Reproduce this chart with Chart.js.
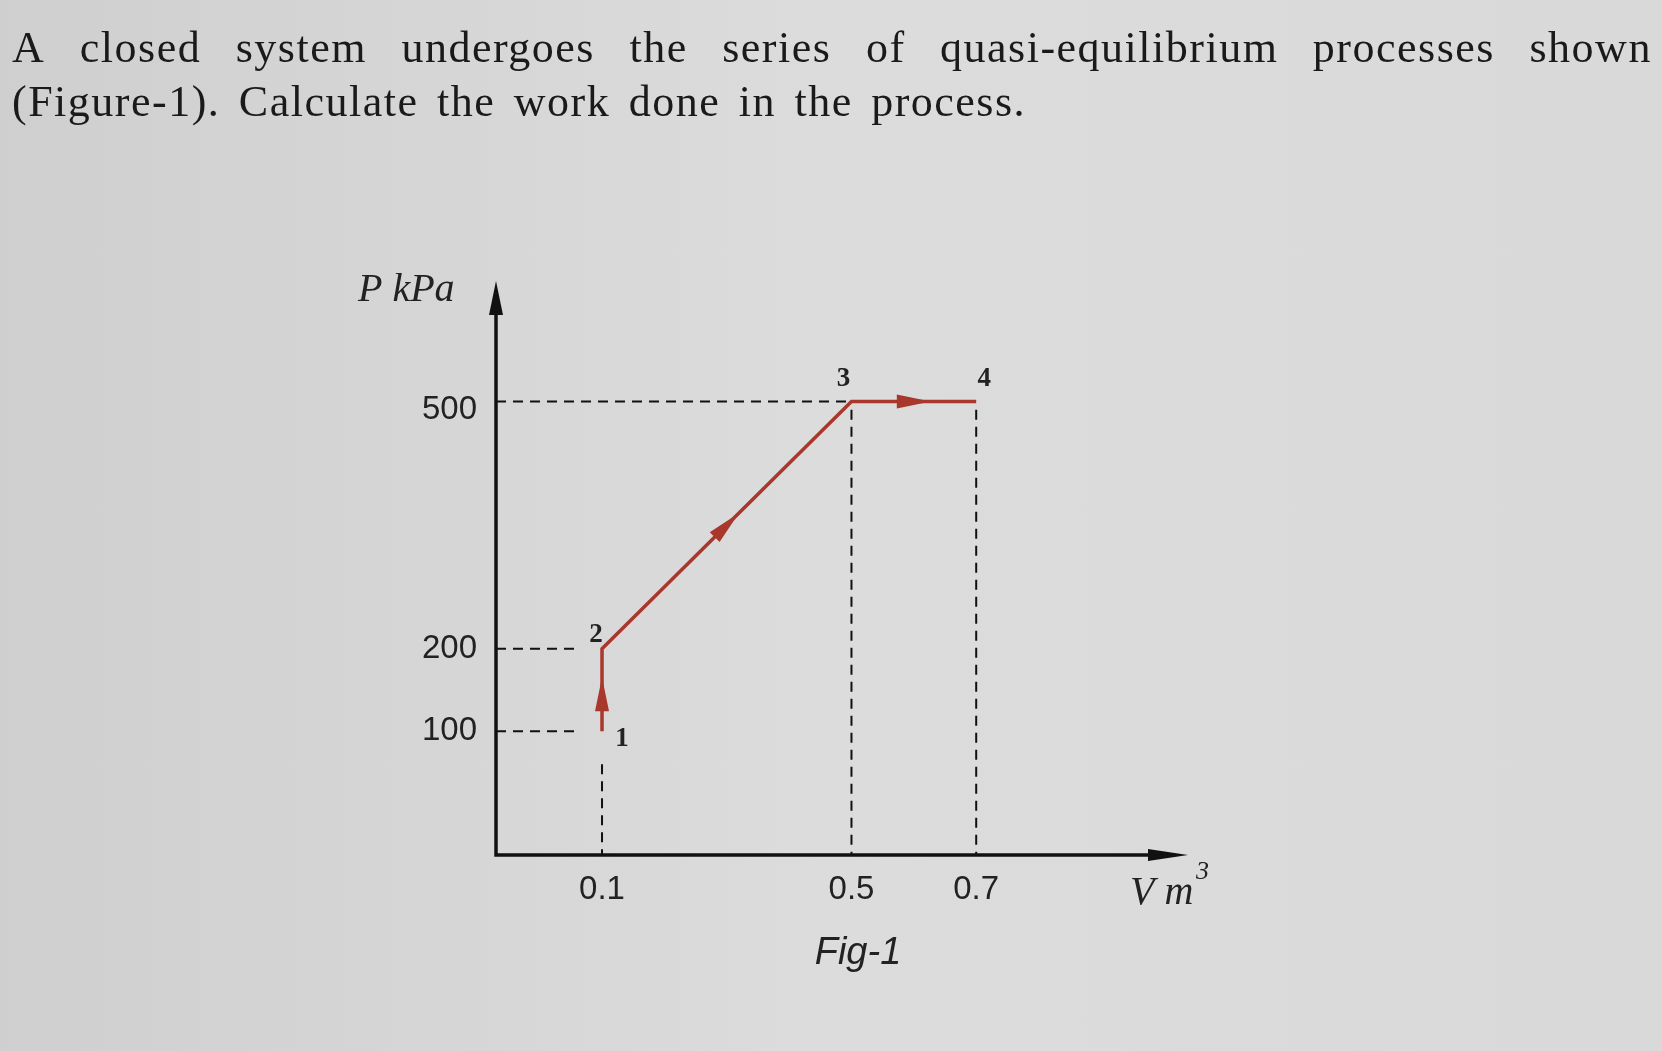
<!DOCTYPE html>
<html><head><meta charset="utf-8">
<script src="https://cdn.jsdelivr.net/npm/chart.js@4/dist/chart.umd.min.js"></script>
<style>html,body{margin:0;padding:0;background:#d7d7d7;overflow:hidden}#w{width:1662px;height:1051px;background:linear-gradient(90deg,#cfcfcf,#dcdcdc 50%,#d9d9d9)}</style>
</head><body><div id="w"><canvas id="c" width="1662" height="1051"></canvas></div>
<script>
const volumes = [0.1, 0.1, 0.5, 0.7];
const pressures = [100, 200, 500, 500];
const pointLabels = ['1', '2', '3', '4'];
const xTickValues = [0.1, 0.5, 0.7];
const xTickLabels = ['0.1', '0.5', '0.7'];
const yTickValues = [100, 200, 500];
const yTickLabels = ['100', '200', '500'];
const titleLines = ['A closed system undergoes the series of quasi-equilibrium processes shown here', '(Figure-1). Calculate the work done in the process.'];

const red = '#a8372c';
const dash = (pts) => ({type:'line', data: pts, borderColor:'#111', borderWidth:2, borderDash:[10,7], pointRadius:0, fill:false});
const datasets = [
  dash([{x:-0.07,y:500},{x:0.5,y:500}]),
  dash([{x:-0.07,y:200},{x:0.06,y:200}]),
  dash([{x:-0.07,y:100},{x:0.06,y:100}]),
  dash([{x:0.1,y:60},{x:0.1,y:-50}]),
  dash([{x:0.5,y:490},{x:0.5,y:-50}]),
  dash([{x:0.7,y:490},{x:0.7,y:-50}]),
  {type:'line', data: volumes.map((v,i)=>({x:v,y:pressures[i]})), borderColor:red, borderWidth:3.5, pointRadius:0, fill:false}
];

function arrowHead(ctx, x, y, ang, len, wid, color){
  ctx.save(); ctx.translate(x,y); ctx.rotate(ang); ctx.fillStyle=color;
  ctx.beginPath(); ctx.moveTo(len/2,0); ctx.lineTo(-len/2,-wid/2); ctx.lineTo(-len/2,wid/2); ctx.closePath(); ctx.fill(); ctx.restore();
}

const deco = {
  id:'deco',
  afterDraw(chart){
    const ctx = chart.ctx, xs = chart.scales.x, ys = chart.scales.y, a = chart.chartArea;
    ctx.save();
    ctx.fillStyle='#1a1a1a'; ctx.font='44px "Liberation Serif"'; ctx.textBaseline='alphabetic';
    ctx.letterSpacing='1.5px'; ctx.wordSpacing='22px';
    ctx.fillText(titleLines[0], 12, 62);
    ctx.wordSpacing='6px';
    ctx.fillText(titleLines[1], 12, 116);
    ctx.letterSpacing='0px'; ctx.wordSpacing='0px';
    ctx.strokeStyle='#111'; ctx.lineWidth=3.5;
    ctx.beginPath(); ctx.moveTo(a.left, a.top+20); ctx.lineTo(a.left, a.bottom); ctx.lineTo(a.right-20, a.bottom); ctx.stroke();
    arrowHead(ctx, a.left, a.top+12, -Math.PI/2, 34, 14, '#111');
    arrowHead(ctx, a.right-14, a.bottom, 0, 40, 12, '#111');
    const px = i => xs.getPixelForValue(volumes[i]), py = i => ys.getPixelForValue(pressures[i]);
    for (let i=0;i<3;i++){
      const x1=px(i),y1=py(i),x2=px(i+1),y2=py(i+1);
      const t = i===0?0.45:0.5;
      arrowHead(ctx, x1+(x2-x1)*t, y1+(y2-y1)*t, Math.atan2(y2-y1,x2-x1), 34, 14, red);
    }
    ctx.fillStyle='#222'; ctx.font='33px "Liberation Sans"';
    ctx.textAlign='center'; ctx.textBaseline='middle';
    xTickValues.forEach((v,i)=>ctx.fillText(xTickLabels[i], xs.getPixelForValue(v), 890));
    ctx.textAlign='right';
    yTickValues.forEach((v,i)=>ctx.fillText(yTickLabels[i], 477, ys.getPixelForValue(v)+(v===500?8:0)));
    ctx.font='bold 27px "Liberation Serif"'; ctx.textAlign='center';
    const off=[[20,8],[-6,-14],[-8,-22],[8,-22]];
    pointLabels.forEach((l,i)=>ctx.fillText(l, px(i)+off[i][0], py(i)+off[i][1]));
    ctx.font='italic 40px "Liberation Serif"'; ctx.textAlign='left';
    ctx.fillText('P kPa', 358, 290);
    ctx.fillText('V m', 1130, 893);
    ctx.font='italic 26px "Liberation Serif"'; ctx.fillText('3', 1196, 872);
    ctx.font='italic 38px "Liberation Sans"'; ctx.textAlign='center';
    ctx.fillText('Fig-1', 858, 953);
    ctx.restore();
  }
};

new Chart(document.getElementById('c'), {
  type:'line',
  data:{datasets},
  options:{
    responsive:false, animation:false, devicePixelRatio:1,
    layout:{padding:{left:496,right:480,top:286,bottom:196}},
    plugins:{legend:{display:false}, tooltip:{enabled:false}},
    scales:{
      x:{type:'linear', min:-0.07, max:1.03, display:false},
      y:{type:'linear', min:-50, max:640, display:false}
    }
  },
  plugins:[deco]
});
</script></body></html>
